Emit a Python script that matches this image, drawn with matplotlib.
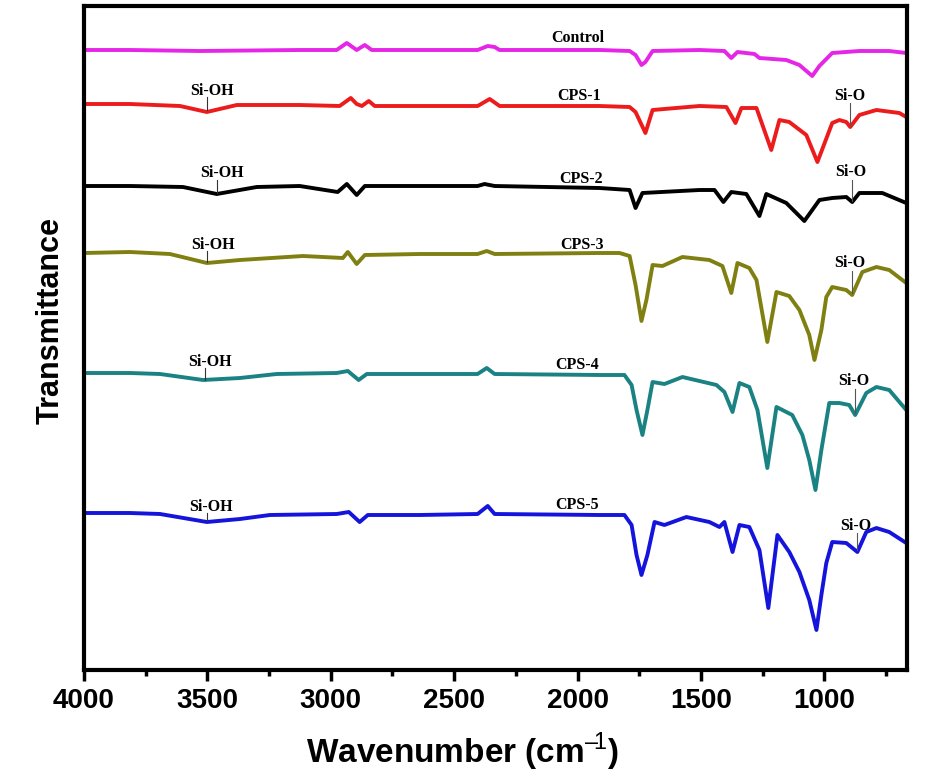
import matplotlib.pyplot as plt
from matplotlib.ticker import MultipleLocator

plt.rcParams['mathtext.fontset'] = 'custom'
plt.rcParams['mathtext.rm'] = 'Liberation Sans'
plt.rcParams['mathtext.bf'] = 'Liberation Sans:bold'

# FTIR spectra (wavenumber in cm-1, stacked transmittance in a.u.)
control_wn = [4000, 3814, 3531, 3126, 2976, 2935, 2895, 2862, 2834, 2405, 2364, 2336, 2316,
              1911, 1789, 1765, 1741, 1725, 1696, 1506, 1405, 1377, 1352, 1283, 1263, 1154,
              1101, 1049, 1020, 968, 858, 737, 668]
control_t = [62.0, 62.0, 61.9, 62.0, 62.0, 62.7, 62.0, 62.5, 62.0, 62.0, 62.4, 62.3, 62.0,
             62.0, 61.9, 61.5, 60.5, 60.8, 61.9, 62.0, 61.9, 61.2, 61.8, 61.6, 61.2, 61.0,
             60.5, 59.4, 60.4, 61.7, 61.9, 61.9, 61.7]

cps1_wn = [4000, 3814, 3611, 3502, 3381, 3126, 2964, 2919, 2895, 2874, 2846, 2822, 2405,
           2356, 2316, 1911, 1789, 1765, 1725, 1696, 1506, 1397, 1360, 1336, 1275, 1215,
           1182, 1142, 1073, 1028, 968, 939, 911, 895, 858, 789, 696, 668]
cps1_t = [56.6, 56.6, 56.4, 55.8, 56.5, 56.5, 56.4, 57.2, 56.6, 56.4, 56.9, 56.4, 56.4,
          57.1, 56.4, 56.4, 56.3, 55.8, 53.7, 56.0, 56.4, 56.3, 54.7, 56.2, 56.2, 52.0,
          55.0, 54.8, 53.5, 50.8, 54.7, 55.0, 54.8, 54.3, 55.5, 56.0, 55.7, 55.3]

cps2_wn = [4000, 3814, 3599, 3462, 3300, 3126, 2972, 2935, 2895, 2862, 2405, 2377, 2336,
           1911, 1789, 1765, 1737, 1506, 1445, 1409, 1377, 1316, 1263, 1235, 1154, 1081,
           1020, 968, 911, 887, 858, 765, 668]
cps2_t = [48.4, 48.4, 48.3, 47.6, 48.3, 48.4, 47.8, 48.6, 47.5, 48.4, 48.4, 48.6, 48.4,
          48.2, 48.0, 46.2, 47.7, 48.0, 48.0, 46.8, 47.8, 47.6, 45.4, 47.6, 46.7, 44.9,
          47.0, 47.2, 47.3, 46.8, 47.7, 47.7, 46.7]

cps3_wn = [4000, 3814, 3652, 3502, 3368, 3113, 2951, 2931, 2895, 2862, 2640, 2405, 2368,
           2336, 1911, 1830, 1789, 1765, 1741, 1721, 1696, 1656, 1575, 1466, 1413, 1377,
           1352, 1304, 1275, 1231, 1194, 1142, 1101, 1061, 1040, 1012, 992, 968, 911, 887,
           846, 789, 737, 668]
cps3_t = [41.7, 41.8, 41.6, 40.7, 41.0, 41.4, 41.2, 41.8, 40.6, 41.5, 41.6, 41.6, 41.9,
          41.6, 41.7, 41.7, 41.4, 38.5, 34.9, 37.0, 40.5, 40.4, 41.3, 41.0, 40.4, 37.7,
          40.7, 40.2, 39.0, 32.8, 37.8, 37.4, 36.0, 33.5, 31.0, 34.0, 37.3, 38.3, 38.0, 37.5,
          39.8, 40.3, 40.0, 38.7]

cps4_wn = [4000, 3814, 3692, 3518, 3368, 3219, 2976, 2931, 2887, 2854, 2640, 2405, 2368,
           2336, 1911, 1810, 1781, 1761, 1737, 1717, 1696, 1648, 1575, 1437, 1405, 1372,
           1344, 1304, 1271, 1231, 1194, 1130, 1089, 1061, 1036, 1012, 980, 939, 899, 875,
           830, 789, 737, 668]
cps4_t = [29.7, 29.7, 29.6, 29.0, 29.2, 29.6, 29.7, 29.9, 29.0, 29.6, 29.6, 29.6, 30.2,
          29.6, 29.5, 29.5, 28.5, 26.0, 23.5, 26.0, 28.8, 28.6, 29.3, 28.5, 27.8, 25.8,
          28.7, 28.3, 26.0, 20.2, 26.3, 25.5, 23.5, 21.0, 18.0, 22.0, 26.7, 26.7, 26.5, 25.5,
          27.7, 28.3, 28.0, 26.0]

cps5_wn = [4000, 3814, 3692, 3502, 3368, 3247, 2976, 2927, 2883, 2850, 2640, 2405, 2364,
           2336, 1911, 1810, 1781, 1761, 1741, 1717, 1688, 1648, 1559, 1466, 1425, 1405,
           1372, 1344, 1304, 1263, 1227, 1190, 1142, 1101, 1061, 1032, 1012, 992, 968, 911,
           866, 830, 789, 737, 668]
cps5_t = [15.7, 15.7, 15.6, 14.8, 15.1, 15.5, 15.6, 15.8, 14.8, 15.5, 15.5, 15.6, 16.4,
          15.6, 15.5, 15.5, 14.5, 11.5, 9.5, 11.5, 14.8, 14.5, 15.3, 14.8, 14.3, 14.8,
          11.8, 14.5, 14.3, 12.0, 6.2, 13.5, 11.8, 9.8, 7.0, 4.0, 7.5, 10.7, 12.8, 12.7,
          11.8, 13.8, 14.2, 13.8, 12.7]

names = ['Control', 'CPS-1', 'CPS-2', 'CPS-3', 'CPS-4', 'CPS-5']
colors = ['#E626E6', '#EC1C1C', '#000000', '#808012', '#1A8282', '#1414DC']
spectra = [(control_wn, control_t), (cps1_wn, cps1_t), (cps2_wn, cps2_t),
           (cps3_wn, cps3_t), (cps4_wn, cps4_t), (cps5_wn, cps5_t)]

# name labels (wavenumber, height)
name_x = [2000, 1992, 1984, 1984, 2004, 2004]
name_y = [63.2, 57.4, 49.1, 42.5, 30.5, 16.5]

# Si-OH marks for CPS-1..5: label pos, leader line wn and span
sioh_text_x = [3482, 3441, 3478, 3490, 3486]
sioh_text_y = [57.9, 49.7, 42.5, 30.8, 16.3]
sioh_line_x = [3502, 3462, 3502, 3510, 3502]
sioh_line_top = [57.3, 49.0, 41.9, 30.2, 15.7]
sioh_line_bot = [56.0, 47.7, 40.8, 29.0, 14.9]

# Si-O marks for CPS-1..5
sio_text_x = [899, 891, 899, 879, 871]
sio_text_y = [57.4, 49.8, 40.7, 28.9, 14.4]
sio_line_x = [895, 887, 887, 875, 866]
sio_line_top = [56.7, 49.0, 39.9, 28.1, 13.7]
sio_line_bot = [54.4, 46.9, 37.7, 25.7, 12.0]

fig = plt.figure(figsize=(9.26, 7.8), dpi=100)
ax = fig.add_axes([84 / 926, 1 - 670 / 780, 823 / 926, 664 / 780])

for (wn, t), c in zip(spectra, colors):
    ax.plot(wn, t, color=c, linewidth=2.8, solid_joinstyle='round', solid_capstyle='round')

serif = dict(family='Liberation Serif', weight='bold', fontsize=11.5)
for name, x, y in zip(names, name_x, name_y):
    ax.text(x, y, name, ha='center', va='center', **serif)

for i in range(5):
    ax.text(sioh_text_x[i], sioh_text_y[i], 'Si-OH', ha='center', va='center', **serif)
    ax.plot([sioh_line_x[i], sioh_line_x[i]], [sioh_line_top[i], sioh_line_bot[i]],
            color='#333333', linewidth=0.8)
    ax.text(sio_text_x[i], sio_text_y[i], 'Si-O', ha='center', va='center', **serif)
    ax.plot([sio_line_x[i], sio_line_x[i]], [sio_line_top[i], sio_line_bot[i]],
            color='#555555', linewidth=0.8)

ax.set_xlim(4000, 665)
ax.set_ylim(0, 66.4)
ax.set_yticks([])
ax.xaxis.set_major_locator(MultipleLocator(500))
ax.xaxis.set_minor_locator(MultipleLocator(250))
ax.tick_params(axis='x', which='major', direction='out', length=8, width=2.5, pad=5)
ax.tick_params(axis='x', which='minor', direction='out', length=4, width=2.5)
for lab in ax.get_xticklabels():
    lab.set_fontfamily('Liberation Sans')
    lab.set_fontweight('bold')
    lab.set_fontsize(20)
for sp in ax.spines.values():
    sp.set_linewidth(3)

ax.set_xlabel('Wavenumber (cm$^{\\mathrm{\u2013}\\!1}$)', family='Liberation Sans',
              weight='bold', fontsize=24)
ax.xaxis.set_label_coords(0.46, -0.092)
ax.set_ylabel('Transmittance', family='Liberation Sans', weight='bold', fontsize=22)
ax.yaxis.set_label_coords(-0.022, 0.527)

plt.savefig('out.png', dpi=100)
plt.close()
